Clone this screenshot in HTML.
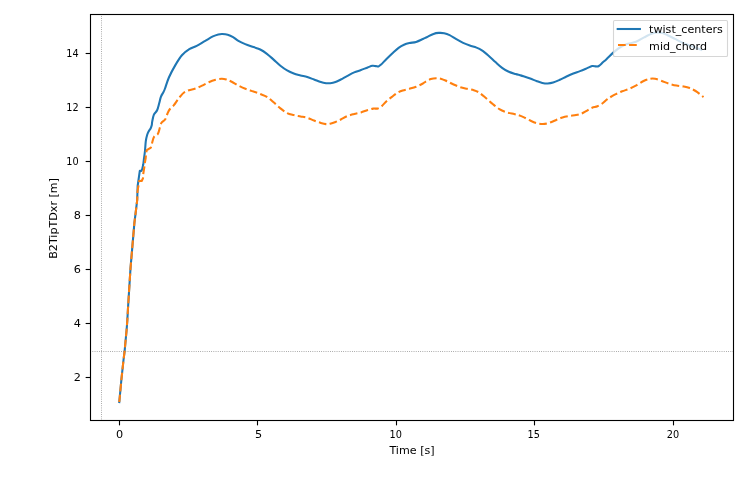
<!DOCTYPE html>
<html lang="en">
<head>
<meta charset="utf-8">
<title>B2TipTDxr comparison</title>
<style>
html,body{margin:0;padding:0;background:#fff;}
body{width:748px;height:483px;overflow:hidden;}
svg{display:block;will-change:transform;}
</style>
</head>
<body>
<svg width="748" height="483" viewBox="0 0 748 483" role="img" aria-label="B2TipTDxr versus time" font-family="'DejaVu Sans', 'Liberation Sans', sans-serif" font-size="11.11" fill="#000">
<rect width="748" height="483" fill="#fff"/>
<clipPath id="ax"><rect x="90.5" y="14.5" width="643.0" height="406.0"/></clipPath>
<g clip-path="url(#ax)" stroke="#808080" stroke-width="0.78" stroke-dasharray="0.83 1.37" fill="none">
<path d="M101.5 420.5V14.5" stroke-dashoffset="1.08"/>
<path d="M90.5 351.5H733.5" stroke-dashoffset="0.29"/>
</g>
<g clip-path="url(#ax)" fill="none" stroke-width="2.083" stroke-linejoin="round">
<path d="M119.30 402.00L121.35 380.00L123.50 360.00L124.60 351.30L125.65 340.00L126.60 330.00L127.35 320.00L127.90 310.00L128.50 300.00L130.50 268.40L134.40 222.80L136.00 210.00L137.20 200.00L137.65 186.00L139.80 170.80L141.40 170.90L142.20 169.20L143.30 164.30L143.80 160.00C144.08 157.78 144.63 154.13 144.96 151.00C145.29 147.87 145.43 143.92 145.80 141.20C146.17 138.48 146.68 136.42 147.20 134.70C147.72 132.98 148.32 131.98 148.90 130.90C149.48 129.82 150.22 129.18 150.70 128.20C151.18 127.22 151.55 126.10 151.80 125.00C152.05 123.90 151.85 123.33 152.20 121.60C152.55 119.87 153.08 116.48 153.90 114.60C154.72 112.72 156.22 112.18 157.10 110.30C157.98 108.42 158.57 105.55 159.20 103.30C159.83 101.05 160.18 98.68 160.90 96.80C161.62 94.92 162.82 93.38 163.50 92.00C164.18 90.62 164.10 90.92 165.00 88.50C165.90 86.08 167.20 81.35 168.90 77.50C170.60 73.65 173.03 69.10 175.20 65.40C177.37 61.70 179.55 58.00 181.90 55.30C184.25 52.60 186.83 50.77 189.30 49.20C191.77 47.63 194.12 47.23 196.70 45.90C199.28 44.57 202.10 42.78 204.80 41.20C207.50 39.62 210.65 37.53 212.90 36.40C215.15 35.27 216.73 34.80 218.30 34.40C219.87 34.00 220.73 33.95 222.30 34.00C223.87 34.05 225.90 34.18 227.70 34.70C229.50 35.22 231.32 36.07 233.10 37.10C234.88 38.13 236.38 39.73 238.40 40.90C240.42 42.07 242.68 43.07 245.20 44.10C247.72 45.13 251.00 46.20 253.50 47.10C256.00 48.00 257.97 48.38 260.20 49.50C262.43 50.62 264.67 52.12 266.90 53.80C269.13 55.48 271.35 57.62 273.60 59.60C275.85 61.58 278.15 63.90 280.40 65.70C282.65 67.50 284.87 69.10 287.10 70.40C289.33 71.70 291.55 72.67 293.80 73.50C296.05 74.33 298.35 74.80 300.60 75.40C302.85 76.00 305.07 76.42 307.30 77.10C309.53 77.78 311.75 78.67 314.00 79.50C316.25 80.33 318.78 81.48 320.80 82.10C322.82 82.72 324.53 83.02 326.10 83.20C327.67 83.38 328.63 83.40 330.20 83.20C331.77 83.00 333.73 82.62 335.50 82.00C337.27 81.38 338.80 80.53 340.80 79.50C342.80 78.47 345.27 76.98 347.50 75.80C349.73 74.62 351.95 73.37 354.20 72.40C356.45 71.43 358.75 70.83 361.00 70.00C363.25 69.17 365.80 68.10 367.70 67.40C369.60 66.70 371.05 66.02 372.40 65.80C373.75 65.58 374.78 66.00 375.80 66.10C376.82 66.20 377.62 66.65 378.50 66.40C379.38 66.15 379.77 65.83 381.10 64.60C382.43 63.37 384.47 61.02 386.50 59.00C388.53 56.98 391.28 54.35 393.30 52.50C395.32 50.65 396.82 49.18 398.60 47.90C400.38 46.62 402.20 45.60 404.00 44.80C405.80 44.00 407.38 43.58 409.40 43.10C411.42 42.62 413.85 42.58 416.10 41.90C418.35 41.22 421.13 39.78 422.90 39.00C424.67 38.22 424.93 38.05 426.70 37.20C428.47 36.35 431.48 34.62 433.50 33.90C435.52 33.18 437.02 33.02 438.80 32.90C440.58 32.78 442.40 32.83 444.20 33.20C446.00 33.57 447.58 34.10 449.60 35.10C451.62 36.10 454.05 37.90 456.30 39.20C458.55 40.50 460.85 41.83 463.10 42.90C465.35 43.97 467.57 44.82 469.80 45.60C472.03 46.38 474.48 46.82 476.50 47.60C478.52 48.38 479.88 48.95 481.90 50.30C483.92 51.65 486.35 53.75 488.60 55.70C490.85 57.65 493.15 59.98 495.40 62.00C497.65 64.02 499.87 66.17 502.10 67.80C504.33 69.43 506.55 70.75 508.80 71.80C511.05 72.85 513.73 73.53 515.60 74.10C517.47 74.67 518.68 74.85 520.00 75.20C521.32 75.55 521.80 75.65 523.50 76.20C525.20 76.75 527.97 77.67 530.20 78.50C532.43 79.33 534.88 80.47 536.90 81.20C538.92 81.93 540.50 82.52 542.30 82.90C544.10 83.28 545.90 83.55 547.70 83.50C549.50 83.45 551.08 83.22 553.10 82.60C555.12 81.98 557.57 80.82 559.80 79.80C562.03 78.78 564.25 77.55 566.50 76.50C568.75 75.45 571.05 74.40 573.30 73.50C575.55 72.60 577.77 71.95 580.00 71.10C582.23 70.25 584.68 69.23 586.70 68.40C588.72 67.57 590.53 66.43 592.10 66.10C593.67 65.77 594.98 66.42 596.10 66.40C597.22 66.38 597.67 66.68 598.80 66.00C599.93 65.32 601.58 63.48 602.90 62.30C604.22 61.12 604.93 60.55 606.70 58.90C608.47 57.25 611.18 54.38 613.50 52.40C615.82 50.42 618.20 48.43 620.60 47.00C623.00 45.57 625.33 44.67 627.90 43.80C630.47 42.93 633.30 42.87 636.00 41.80C638.70 40.73 641.40 38.78 644.10 37.40C646.80 36.02 649.95 34.33 652.20 33.50C654.45 32.67 655.88 32.47 657.60 32.40C659.32 32.33 660.83 32.62 662.50 33.10C664.17 33.58 665.53 34.33 667.60 35.30C669.67 36.27 672.33 37.62 674.90 38.90C677.47 40.18 680.30 41.80 683.00 43.00C685.70 44.20 688.63 45.20 691.10 46.10C693.57 47.00 696.10 47.78 697.80 48.40C699.50 49.02 700.72 49.57 701.30 49.80" stroke="#1f77b4" stroke-linecap="square"/>
<path d="M119.30 402.00L121.35 380.00L123.50 360.00L124.60 351.30L125.65 340.00L126.60 330.00L127.35 320.00L127.90 310.00L128.50 300.00L130.50 268.40L134.40 222.80L136.00 210.00L137.20 200.00L137.50 191.30L139.30 180.70L141.70 181.00L143.00 178.30L143.30 173.50L144.30 167.30L144.90 162.70L145.70 158.00L146.20 152.50L146.80 150.20L150.90 147.60L152.10 143.00C152.63 141.20 153.15 138.30 154.10 136.80C155.05 135.30 156.83 135.55 157.80 134.00C158.77 132.45 159.28 129.38 159.90 127.50C160.52 125.62 160.60 124.08 161.50 122.70C162.40 121.32 164.30 120.73 165.30 119.20C166.30 117.67 166.78 115.12 167.50 113.50C168.22 111.88 168.53 110.88 169.60 109.50C170.67 108.12 172.65 106.68 173.90 105.20C175.15 103.72 176.02 102.08 177.10 100.60C178.18 99.12 179.23 97.65 180.40 96.30C181.57 94.95 182.67 93.52 184.10 92.50C185.53 91.48 187.12 90.87 189.00 90.20C190.88 89.53 193.22 89.27 195.40 88.50C197.58 87.73 199.87 86.65 202.10 85.60C204.33 84.55 206.55 83.17 208.80 82.20C211.05 81.23 213.47 80.37 215.60 79.80C217.73 79.23 219.82 78.85 221.60 78.80C223.38 78.75 224.62 79.00 226.30 79.50C227.98 80.00 229.68 80.78 231.70 81.80C233.72 82.82 236.12 84.43 238.40 85.60C240.68 86.77 242.88 87.82 245.40 88.80C247.92 89.78 251.03 90.63 253.50 91.50C255.97 92.37 257.97 93.10 260.20 94.00C262.43 94.90 264.67 95.52 266.90 96.90C269.13 98.28 271.35 100.38 273.60 102.30C275.85 104.22 278.15 106.60 280.40 108.40C282.65 110.20 284.87 111.98 287.10 113.10C289.33 114.22 291.55 114.55 293.80 115.10C296.05 115.65 298.35 115.95 300.60 116.40C302.85 116.85 305.07 117.12 307.30 117.80C309.53 118.48 311.75 119.65 314.00 120.50C316.25 121.35 318.78 122.30 320.80 122.90C322.82 123.50 324.53 123.97 326.10 124.10C327.67 124.23 328.63 124.05 330.20 123.70C331.77 123.35 333.73 122.70 335.50 122.00C337.27 121.30 338.80 120.50 340.80 119.50C342.80 118.50 345.27 116.92 347.50 116.00C349.73 115.08 351.95 114.60 354.20 114.00C356.45 113.40 358.75 113.05 361.00 112.40C363.25 111.75 365.68 110.73 367.70 110.10C369.72 109.47 371.42 108.87 373.10 108.60C374.78 108.33 376.35 108.92 377.80 108.50C379.25 108.08 380.35 107.32 381.80 106.10C383.25 104.88 384.82 102.73 386.50 101.20C388.18 99.67 390.10 98.28 391.90 96.90C393.70 95.52 395.50 93.97 397.30 92.90C399.10 91.83 400.68 91.18 402.70 90.50C404.72 89.82 407.17 89.42 409.40 88.80C411.63 88.18 413.85 87.68 416.10 86.80C418.35 85.92 421.35 84.33 422.90 83.50C424.45 82.67 424.08 82.53 425.40 81.80C426.72 81.07 429.00 79.70 430.80 79.10C432.60 78.50 434.42 78.23 436.20 78.20C437.98 78.17 439.72 78.40 441.50 78.90C443.28 79.40 444.88 80.27 446.90 81.20C448.92 82.13 451.35 83.50 453.60 84.50C455.85 85.50 458.15 86.48 460.40 87.20C462.65 87.92 464.87 88.30 467.10 88.80C469.33 89.30 471.78 89.57 473.80 90.20C475.82 90.83 477.18 91.30 479.20 92.60C481.22 93.90 483.65 96.10 485.90 98.00C488.15 99.90 490.45 102.15 492.70 104.00C494.95 105.85 497.17 107.75 499.40 109.10C501.63 110.45 503.63 111.27 506.10 112.10C508.57 112.93 512.13 113.58 514.20 114.10C516.27 114.62 516.95 114.70 518.50 115.20C520.05 115.70 521.55 116.22 523.50 117.10C525.45 117.98 527.97 119.48 530.20 120.50C532.43 121.52 534.77 122.62 536.90 123.20C539.03 123.78 540.98 124.05 543.00 124.00C545.02 123.95 546.87 123.53 549.00 122.90C551.13 122.27 553.55 121.12 555.80 120.20C558.05 119.28 560.27 118.10 562.50 117.40C564.73 116.70 566.95 116.38 569.20 116.00C571.45 115.62 573.98 115.48 576.00 115.10C578.02 114.72 579.52 114.42 581.30 113.70C583.08 112.98 584.90 111.80 586.70 110.80C588.50 109.80 590.30 108.45 592.10 107.70C593.90 106.95 595.70 107.08 597.50 106.30C599.30 105.52 601.25 104.20 602.90 103.00C604.55 101.80 605.43 100.48 607.40 99.10C609.37 97.72 612.25 96.00 614.70 94.70C617.15 93.40 619.65 92.28 622.10 91.30C624.55 90.32 626.95 89.83 629.40 88.80C631.85 87.77 634.35 86.45 636.80 85.10C639.25 83.75 641.90 81.75 644.10 80.70C646.30 79.65 648.17 79.12 650.00 78.80C651.83 78.48 653.13 78.43 655.10 78.80C657.07 79.17 659.47 80.18 661.80 81.00C664.13 81.82 666.65 82.93 669.10 83.70C671.55 84.47 674.05 85.12 676.50 85.60C678.95 86.08 681.60 86.18 683.80 86.60C686.00 87.02 687.73 87.37 689.70 88.10C691.67 88.83 693.63 89.78 695.60 91.00C697.57 92.22 700.18 94.38 701.50 95.40C702.82 96.42 703.17 96.82 703.50 97.10" stroke="#ff7f0e" stroke-dasharray="7.72 3.338" stroke-dashoffset="0.3" stroke-linecap="butt"/>
</g>
<rect x="90.5" y="14.5" width="643.0" height="406.0" fill="none" stroke="#000" stroke-width="1.11" stroke-linejoin="miter"/>
<g stroke="#000" stroke-width="1.11">
<path d="M119.5 420.5v4.86"/>
<path d="M257.5 420.5v4.86"/>
<path d="M396.5 420.5v4.86"/>
<path d="M534.5 420.5v4.86"/>
<path d="M673.5 420.5v4.86"/>
<path d="M90.5 377.5h-4.86"/>
<path d="M90.5 323.5h-4.86"/>
<path d="M90.5 269.5h-4.86"/>
<path d="M90.5 215.5h-4.86"/>
<path d="M90.5 161.5h-4.86"/>
<path d="M90.5 107.5h-4.86"/>
<path d="M90.5 53.5h-4.86"/>
</g>
<g text-anchor="middle" font-size="9.72">
<text transform="translate(119.50 438.0) scale(1.16 1)">0</text>
<text transform="translate(258.50 438.0) scale(1.16 1)">5</text>
<text x="395.80" y="438.0">10</text>
<text x="533.80" y="438.0">15</text>
<text x="672.90" y="438.0">20</text>
</g>
<g text-anchor="end" font-size="9.72">
<text transform="translate(81.0 381.16) scale(1.16 1)">2</text>
<text transform="translate(81.0 327.12) scale(1.16 1)">4</text>
<text transform="translate(81.0 273.08) scale(1.16 1)">6</text>
<text transform="translate(81.0 219.04) scale(1.16 1)">8</text>
<text x="78.6" y="165.00">10</text>
<text x="78.6" y="110.96">12</text>
<text x="78.6" y="56.92">14</text>
</g>
<text x="412.00" y="454.0" text-anchor="middle">Time [s]</text>
<text transform="translate(57.3 218.40) rotate(-90)" text-anchor="middle">B2TipTDxr [m]</text>
<rect x="613.5" y="20.5" width="114" height="36" rx="1.3" ry="1.3" fill="#fff" fill-opacity="0.8" stroke="#ccc" stroke-opacity="0.8" stroke-width="1.11"/>
<path d="M617.7 29H639.9" stroke="#1f77b4" stroke-width="2.083" stroke-linecap="square" fill="none"/>
<path d="M618.0 45H639.9" stroke="#ff7f0e" stroke-width="2.083" stroke-dasharray="7.71 3.33" fill="none"/>
<text x="649.1" y="32.9">twist_centers</text>
<text x="649.1" y="49.6">mid_chord</text>
</svg>
</body>
</html>
